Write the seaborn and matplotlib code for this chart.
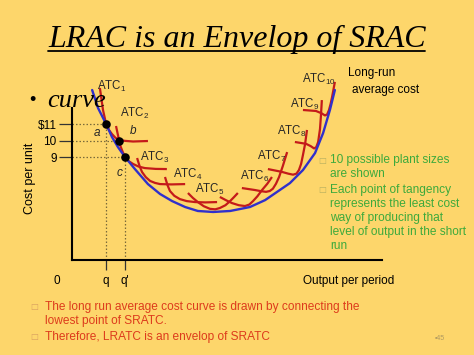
import matplotlib
matplotlib.use("Agg")
import matplotlib.pyplot as plt
import seaborn as sns
from matplotlib.lines import Line2D

# ---------------- data (output q, cost per unit) ----------------
lrac_q = [0.65, 0.84, 1.10, 1.29, 1.48, 1.71, 2.03, 2.45, 2.84, 3.23, 3.65, 4.06,
          4.55, 5.10, 5.74, 6.23, 6.61, 7.03, 7.45, 7.84, 8.10, 8.32, 8.48]
lrac_c = [13.06, 11.97, 11.00, 10.21, 9.61, 9.00, 8.27, 7.36, 6.76, 6.33, 5.97, 5.73,
          5.67, 5.73, 5.97, 6.39, 6.88, 7.42, 8.21, 9.24, 10.45, 11.85, 13.06]

atc1_q = [0.90, 1.00, 1.10, 1.20, 1.29, 1.40, 1.52, 1.70, 1.97, 2.45]
atc1_c = [13.18, 11.85, 11.00, 10.62, 10.39, 10.17, 10.04, 9.98, 9.94, 9.97]
atc2_q = [1.42, 1.55, 1.62, 1.71, 1.83, 1.97, 2.15, 2.35, 2.70, 3.06]
atc2_c = [10.88, 9.73, 9.38, 9.00, 8.75, 8.58, 8.42, 8.33, 8.28, 8.27]
atc3_q = [2.10, 2.18, 2.26, 2.38, 2.52, 2.68, 2.84, 3.20, 3.65]
atc3_c = [8.94, 8.45, 8.09, 7.78, 7.55, 7.43, 7.36, 7.34, 7.36]
atc4_q = [3.00, 3.08, 3.16, 3.30, 3.48, 3.70, 3.97, 4.30, 4.68]
atc4_c = [7.79, 7.30, 6.94, 6.65, 6.45, 6.33, 6.27, 6.25, 6.27]
atc5_q = [3.74, 3.90, 4.06, 4.25, 4.45, 4.62, 4.77, 4.95, 5.10, 5.22, 5.35]
atc5_c = [6.82, 6.52, 6.27, 6.02, 5.86, 5.83, 5.91, 6.08, 6.33, 6.56, 6.82]
atc6_q = [4.77, 4.97, 5.16, 5.38, 5.58, 5.72, 5.84, 5.98, 6.13, 6.30, 6.45]
atc6_c = [6.58, 6.38, 6.21, 6.08, 6.03, 6.12, 6.33, 6.62, 7.00, 7.38, 7.79]
atc7_q = [5.48, 5.90, 6.10, 6.26, 6.38, 6.48, 6.58, 6.68, 6.80, 6.94]
atc7_c = [7.12, 7.00, 6.93, 6.89, 6.94, 7.08, 7.38, 7.79, 8.45, 9.30]
atc8_q = [6.32, 6.77, 6.98, 7.13, 7.24, 7.32, 7.39, 7.45, 7.52, 7.58]
atc8_c = [8.27, 8.10, 7.99, 7.93, 7.99, 8.21, 8.58, 9.12, 9.80, 10.64]
atc9_q = [7.19, 7.55, 7.70, 7.81, 7.88, 7.94, 8.00, 8.03, 8.06]
atc9_c = [9.91, 9.80, 9.66, 9.52, 9.60, 9.91, 10.70, 11.50, 12.45]
atc10_q = [7.45, 7.87, 8.05, 8.16, 8.23, 8.29, 8.34, 8.39, 8.48]
atc10_c = [11.85, 11.79, 11.65, 11.52, 11.58, 11.85, 12.20, 12.64, 13.55]

point_q = [1.10, 1.52, 1.71]
point_c = [11.0, 10.0, 9.0]
point_names = ["a", "b", "c"]

ytick_vals = [9, 10, 11]
ytick_labels = ["9", "10", "$11"]
xtick_vals = [1.10, 1.71]
xtick_labels = ["q", "q'"]

atc_curves = [(atc1_q, atc1_c), (atc2_q, atc2_c), (atc3_q, atc3_c), (atc4_q, atc4_c),
              (atc5_q, atc5_c), (atc6_q, atc6_c), (atc7_q, atc7_c), (atc8_q, atc8_c),
              (atc9_q, atc9_c), (atc10_q, atc10_c)]

# ---------------- style ----------------
BG = "#FDD66B"
RED = "#C41A1A"
BLUE = "#3030CC"
GREEN = "#3DAA3C"
TXTRED = "#DD3B1C"

sns.set_theme(style="white", rc={"axes.facecolor": BG, "figure.facecolor": BG})
plt.rcParams["font.family"] = ["Liberation Sans", "DejaVu Sans"]
plt.rcParams["mathtext.fontset"] = "custom"
plt.rcParams["mathtext.rm"] = "Liberation Sans"
plt.rcParams["mathtext.it"] = "Liberation Sans:italic"

W, H = 474, 355
fig = plt.figure(figsize=(W / 100, H / 100), dpi=100)


def fx(px):
    return px / W


def fy(py):
    return 1 - py / H


ax = fig.add_axes([fx(72), fy(260), 328 / W, 185 / H])
ax.patch.set_alpha(0)
ax.set_xlim(0, 328 / 31)
ax.set_ylim(2.76, 13.97)

for s in ["top", "right"]:
    ax.spines[s].set_visible(False)
for s in ["left", "bottom"]:
    ax.spines[s].set_color("black")
    ax.spines[s].set_linewidth(1.5)
ax.spines["left"].set_bounds(2.76, 11.97)
ax.spines["bottom"].set_bounds(0, 10)

ax.set_yticks(ytick_vals)
ax.set_yticklabels(ytick_labels)
ax.set_xticks(xtick_vals)
ax.set_xticklabels(xtick_labels)
ax.tick_params(axis="y", left=True, direction="out", length=9.5, width=0.9,
               color="#333333", pad=1.5, labelsize=8.5, labelcolor="black")
ax.tick_params(axis="x", bottom=True, direction="out", length=7, width=0.9,
               color="#333333", pad=4, labelsize=8.5, labelcolor="black")

# dotted guides
ax.hlines(point_c, 0, point_q, colors="#7a6a3a", linestyles=(0, (1.2, 1.6)), lw=0.9)
ax.vlines([point_q[0], point_q[2]], 2.76, [point_c[0], point_c[2]],
          colors="#7a6a3a", linestyles=(0, (1.2, 1.6)), lw=0.9)

# short-run curves
for q, c in atc_curves:
    sns.lineplot(x=q, y=c, ax=ax, color=RED, lw=1.6, sort=False, estimator=None,
                 clip_on=False, zorder=3, solid_joinstyle="round",
                 solid_capstyle="butt")

# long-run curve
sns.lineplot(x=lrac_q, y=lrac_c, ax=ax, color=BLUE, lw=1.7, sort=False,
             estimator=None, clip_on=False, zorder=4, solid_joinstyle="round")

sns.scatterplot(x=point_q, y=point_c, ax=ax, color="black", s=38, linewidth=0,
                zorder=5, clip_on=False)

# point letters
ax.text(0.81, 10.45, "a", style="italic", fontsize=8.5, ha="center", va="center")
ax.text(1.97, 10.60, "b", style="italic", fontsize=8.5, ha="center", va="center")
ax.text(1.52, 8.03, "c", style="italic", fontsize=8.5, ha="center", va="center")

# ATC labels
atc_label_pos = [(0.81, 13.30), (1.55, 11.66), (2.19, 9.00), (3.26, 7.97), (3.97, 7.06),
                 (5.42, 7.85), (5.97, 9.06), (6.61, 10.52), (7.03, 12.21), (7.42, 13.73)]
for i, (lx, ly) in enumerate(atc_label_pos, start=1):
    ax.text(lx, ly, "ATC$_{%d}$" % i, fontsize=8.3, ha="left", va="center",
            clip_on=False, zorder=6)

# ---------------- slide text ----------------
fig.text(fx(237), fy(47), "LRAC is an Envelop of SRAC", ha="center", va="baseline",
         fontsize=23, family="Liberation Serif", style="italic", color="black")
fig.add_artist(Line2D([fx(48), fx(425)], [fy(51), fy(51)], transform=fig.transFigure,
                      color="black", lw=1.3))

fig.text(fx(32.5), fy(100), "\u2022", ha="center", va="center", fontsize=13, color="black")
fig.text(fx(47), fy(107), "curve", ha="left", va="baseline", fontsize=19,
         family="Liberation Serif", style="italic", color="black", zorder=0)

fig.text(fx(30), fy(178), "Cost per unit", rotation=90, ha="center", va="center",
         fontsize=9, color="black")
fig.text(fx(57), fy(281), "0", ha="center", va="center", fontsize=8.5, color="black")
fig.text(fx(349), fy(281), "Output per period", ha="center", va="center",
         fontsize=8.5, color="black")

fig.text(fx(348), fy(73), "Long-run", ha="left", va="center", fontsize=8.5, color="black")
fig.text(fx(352), fy(90), "average cost", ha="left", va="center", fontsize=8.5,
         color="black")

green_lines = [(160, "10 possible plant sizes"), (174, "are shown"),
               (190, "Each point of tangency"), (204, "represents the least cost"),
               (218, "way of producing that"), (232, "level of output in the short"),
               (246, "run")]
for py, t in green_lines:
    fig.text(fx(330), fy(py), t, ha="left", va="center", fontsize=8.6, color=GREEN)
for py in (160, 190):
    fig.text(fx(322), fy(py), "\u25a1", ha="center", va="center", fontsize=6,
             color="#b8b060", family="DejaVu Sans")

red_lines = [(307, "The long run average cost curve is drawn by connecting the"),
             (321, "lowest point of SRATC."),
             (337, "Therefore, LRATC is an envelop of SRATC")]
for py, t in red_lines:
    fig.text(fx(45), fy(py), t, ha="left", va="center", fontsize=8.6, color=TXTRED)
for py in (307, 337):
    fig.text(fx(34), fy(py), "\u25a1", ha="center", va="center", fontsize=6,
             color="#d9a060", family="DejaVu Sans")

fig.text(fx(440), fy(339), "\u202245", ha="center", va="center", fontsize=5,
         color="#b09a60")

fig.savefig("out.png", dpi=100, facecolor=BG)
